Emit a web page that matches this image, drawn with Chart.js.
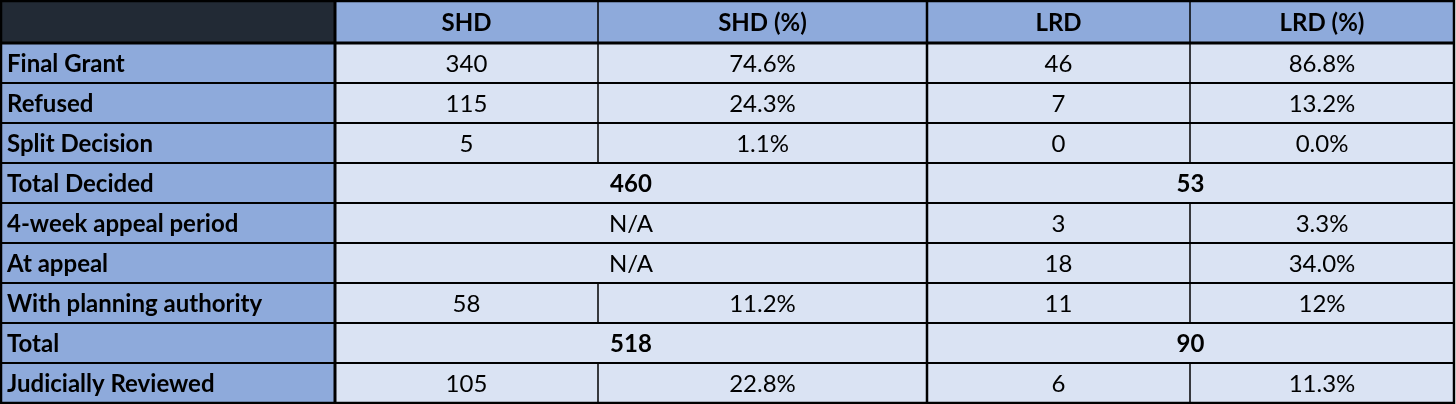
<!DOCTYPE html>
<html>
<head>
<meta charset="utf-8">
<script src="https://cdn.jsdelivr.net/npm/chart.js@4"></script>
<style>
  html, body { margin: 0; padding: 0; background: #fff; }
  #wrap { width: 1456px; height: 404px; }
</style>
</head>
<body>
<div id="wrap"><canvas id="tbl"></canvas></div>
<script>
const headers = ['SHD', 'SHD (%)', 'LRD', 'LRD (%)'];
const rowLabels = ['Final Grant', 'Refused', 'Split Decision', 'Total Decided', '4-week appeal period',
    'At appeal', 'With planning authority', 'Total', 'Judicially Reviewed'];
// null in a (%) column means the cell to its left spans both columns
const shd = ['340', '115', '5', '460', 'N/A', 'N/A', '58', '518', '105'];
const shdPct = ['74.6%', '24.3%', '1.1%', null, null, null, '11.2%', null, '22.8%'];
const lrd = ['46', '7', '0', '53', '3', '18', '11', '90', '6'];
const lrdPct = ['86.8%', '13.2%', '0.0%', null, '3.3%', '34.0%', '12%', null, '11.3%'];
const boldRows = ['Total Decided', 'Total'];

// layout (pixels in scale units)
const colEdges = [1, 335, 598, 927, 1190, 1454];
const headerH = 43;
const rowH = 40;

const FONT = 'Lato, "Open Sans", sans-serif';

const tablePlugin = {
    id: 'tablePlugin',
    afterDraw(chart) {
        const ctx = chart.ctx;
        const xs = chart.scales.x, ys = chart.scales.y;
        const px = (v) => xs.getPixelForValue(v);
        const py = (v) => ys.getPixelForValue(v);
        const top = 1;
        const bottom = headerH + rowH * rowLabels.length;

        function cell(c0, c1, r0, r1, fill) {
            ctx.fillStyle = fill;
            ctx.fillRect(px(c0), py(r0), px(c1) - px(c0), py(r1) - py(r0));
        }
        function text(str, x, y, bold, align) {
            ctx.font = (bold ? 'bold ' : '') + '24px ' + FONT;
            ctx.fillStyle = '#000';
            ctx.textAlign = align;
            ctx.textBaseline = 'middle';
            ctx.fillText(str, x, y);
        }
        function line(x0, y0, x1, y1, w) {
            ctx.strokeStyle = '#000';
            ctx.lineWidth = w;
            ctx.beginPath();
            ctx.moveTo(px(x0), py(y0));
            ctx.lineTo(px(x1), py(y1));
            ctx.stroke();
        }

        ctx.save();
        // header
        cell(colEdges[0], colEdges[1], top, headerH, '#222a35');
        cell(colEdges[1], colEdges[5], top, headerH, '#8eaadb');
        headers.forEach((h, i) => {
            text(h, (px(colEdges[i + 1]) + px(colEdges[i + 2])) / 2, py((top + headerH) / 2 + 1), true, 'center');
        });

        // rows
        rowLabels.forEach((label, r) => {
            const y0 = headerH + rowH * r, y1 = y0 + rowH;
            const ym = py((y0 + y1) / 2 + 1);
            const bold = boldRows.includes(label);
            cell(colEdges[0], colEdges[1], y0, y1, '#8eaadb');
            cell(colEdges[1], colEdges[5], y0, y1, '#dae3f3');
            text(label, px(colEdges[0] + 6), ym, true, 'left');

            const groups = [[shd[r], shdPct[r], 1], [lrd[r], lrdPct[r], 3]];
            groups.forEach(([v, pct, c]) => {
                if (pct === null) {
                    text(v, (px(colEdges[c]) + px(colEdges[c + 2])) / 2, ym, bold, 'center');
                } else {
                    text(v, (px(colEdges[c]) + px(colEdges[c + 1])) / 2, ym, bold, 'center');
                    text(pct, (px(colEdges[c + 1]) + px(colEdges[c + 2])) / 2, ym, bold, 'center');
                    line(colEdges[c + 1], y0, colEdges[c + 1], y1, 1.5);
                }
            });
            if (r > 0) line(colEdges[0], y0, colEdges[5], y0, 2);
        });

        // header inner dividers
        line(colEdges[2], top, colEdges[2], headerH, 1.5);
        line(colEdges[4], top, colEdges[4], headerH, 1.5);
        // thick lines
        line(colEdges[0], headerH, colEdges[5], headerH, 3);
        line(colEdges[1], top, colEdges[1], bottom, 3);
        line(colEdges[3], top, colEdges[3], bottom, 2.5);
        ctx.strokeStyle = '#000';
        ctx.lineWidth = 2.5;
        ctx.strokeRect(px(colEdges[0]), py(top), px(colEdges[5]) - px(colEdges[0]), py(bottom) - py(top));
        ctx.restore();
    }
};

new Chart(document.getElementById('tbl'), {
    type: 'scatter',
    data: { datasets: [] },
    options: {
        responsive: true,
        maintainAspectRatio: false,
        animation: false,
        layout: { padding: 0 },
        plugins: { legend: { display: false }, tooltip: { enabled: false } },
        scales: {
            x: { type: 'linear', min: 0, max: 1456, display: false },
            y: { type: 'linear', min: 0, max: 404, reverse: true, display: false }
        }
    },
    plugins: [tablePlugin]
});
</script>
</body>
</html>
